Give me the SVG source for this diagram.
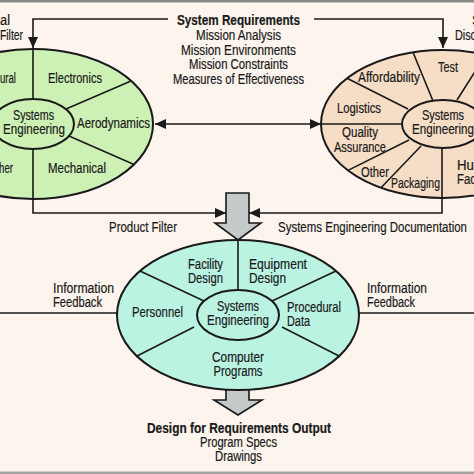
<svg xmlns="http://www.w3.org/2000/svg" width="474" height="474" viewBox="0 0 474 474">
<defs>
<style>
.t{font-family:"Liberation Sans",Arial,sans-serif;font-size:14px;fill:#1a1a1a;stroke:#1a1a1a;stroke-width:0.2}
.b{font-weight:bold}
.c{text-anchor:middle}
.e{text-anchor:end}
.ln{stroke:#1a1a1a;stroke-width:1.6;fill:none}
.el{stroke:#1a1a1a;stroke-width:2}
.ga{fill:#c4c9ca;stroke:#1a1a1a;stroke-width:1.6;stroke-linejoin:miter}
</style>
<marker id="ah" viewBox="0 0 11 10" refX="11" refY="5" markerWidth="11" markerHeight="10" markerUnits="userSpaceOnUse" orient="auto-start-reverse">
<path d="M0,0 L11,5 L0,10 z" fill="#1a1a1a"/>
</marker>
</defs>
<rect x="0" y="0" width="474" height="474" fill="#fdf4ed"/>
<rect x="0" y="0" width="474" height="2.5" fill="#8a8a8a"/>
<rect x="0" y="471.5" width="474" height="2.5" fill="#a3a3a3"/>

<g id="left-ellipse">
<ellipse cx="33" cy="124" rx="120" ry="75" fill="#cdf1b5"/>
<path class="ln" d="M33,49 V100 M66,109 L131,81 M69,136 L134,164.5"/>
<ellipse class="el" cx="33" cy="124" rx="41" ry="25" fill="#cdf1b5"/>
<ellipse class="el" cx="33" cy="124" rx="120" ry="75" fill="none"/>
<text class="t e" x="16" y="83" textLength="16" lengthAdjust="spacingAndGlyphs">ural</text>
<text class="t c" x="75" y="83" textLength="54" lengthAdjust="spacingAndGlyphs">Electronics</text>
<text class="t c" x="33.5" y="120" textLength="41" lengthAdjust="spacingAndGlyphs">Systems</text>
<text class="t c" x="34" y="133.5" textLength="62" lengthAdjust="spacingAndGlyphs">Engineering</text>
<text class="t c" x="113.5" y="128" textLength="73" lengthAdjust="spacingAndGlyphs">Aerodynamics</text>
<text class="t c" x="77" y="173" textLength="58" lengthAdjust="spacingAndGlyphs">Mechanical</text>
<text class="t e" x="13" y="173" textLength="14" lengthAdjust="spacingAndGlyphs">her</text>
</g>

<g id="right-ellipse">
<ellipse cx="443" cy="124" rx="122" ry="74" fill="#f6ddc6"/>
<path class="ln" d="M413,52.3 L433,101 M347,78.3 L408,109 M321,124 H404 M348,170.4 L409,140 M381,187.7 L421,146 M457,100 L490,48"/>
<ellipse class="el" cx="443" cy="124" rx="41" ry="24" fill="#f6ddc6"/>
<ellipse class="el" cx="443" cy="124" rx="122" ry="74" fill="none"/>
<text class="t c" x="448" y="72" textLength="20" lengthAdjust="spacingAndGlyphs">Test</text>
<text class="t c" x="389" y="82" textLength="62" lengthAdjust="spacingAndGlyphs">Affordability</text>
<text class="t c" x="359" y="113" textLength="44" lengthAdjust="spacingAndGlyphs">Logistics</text>
<text class="t c" x="360" y="137" textLength="36" lengthAdjust="spacingAndGlyphs">Quality</text>
<text class="t c" x="360" y="152" textLength="52" lengthAdjust="spacingAndGlyphs">Assurance</text>
<text class="t c" x="375" y="177" textLength="28" lengthAdjust="spacingAndGlyphs">Other</text>
<text class="t c" x="415.5" y="188" textLength="49" lengthAdjust="spacingAndGlyphs">Packaging</text>
<text class="t" x="457" y="170" textLength="17" lengthAdjust="spacingAndGlyphs">Hu</text>
<text class="t" x="457" y="184" textLength="19" lengthAdjust="spacingAndGlyphs">Fac</text>
<text class="t c" x="443" y="120" textLength="42" lengthAdjust="spacingAndGlyphs">Systems</text>
<text class="t c" x="443" y="133.5" textLength="62" lengthAdjust="spacingAndGlyphs">Engineering</text>
</g>

<g id="bottom-ellipse">
<polygon class="ga" points="226,385 249,385 249,400 262,400 238,415 214,400 226,400"/>
<ellipse cx="238" cy="315" rx="121" ry="75" fill="#bbf3e3"/>
<path class="ln" d="M238,240 V291 M140,271 L204,301 M137,356 L194,327 M336,271 L272,301 M339,356 L282,327"/>
<ellipse class="el" cx="238" cy="315" rx="41" ry="25" fill="#bbf3e3"/>
<ellipse class="el" cx="238" cy="315" rx="121" ry="75" fill="none"/>
<text class="t" x="188" y="269" textLength="35" lengthAdjust="spacingAndGlyphs">Facility</text>
<text class="t" x="188" y="283" textLength="35" lengthAdjust="spacingAndGlyphs">Design</text>
<text class="t" x="249" y="269" textLength="58" lengthAdjust="spacingAndGlyphs">Equipment</text>
<text class="t" x="249" y="283" textLength="37" lengthAdjust="spacingAndGlyphs">Design</text>
<text class="t c" x="157.5" y="317" textLength="51" lengthAdjust="spacingAndGlyphs">Personnel</text>
<text class="t" x="287" y="312" textLength="54" lengthAdjust="spacingAndGlyphs">Procedural</text>
<text class="t" x="287" y="325.5" textLength="23" lengthAdjust="spacingAndGlyphs">Data</text>
<text class="t c" x="238" y="311" textLength="42" lengthAdjust="spacingAndGlyphs">Systems</text>
<text class="t c" x="238" y="324.5" textLength="62" lengthAdjust="spacingAndGlyphs">Engineering</text>
<text class="t c" x="238" y="362" textLength="52" lengthAdjust="spacingAndGlyphs">Computer</text>
<text class="t c" x="238" y="375.5" textLength="49" lengthAdjust="spacingAndGlyphs">Programs</text>
</g>

<g id="product-arrow">
<polygon class="ga" points="226,193 249,193 249,223 261,223 238,240 215,223 226,223"/>
</g>

<g id="connectors">
<path class="ln" d="M168,19 H33 V48" marker-end="url(#ah)"/>
<path class="ln" d="M314,19 H443 V48" marker-end="url(#ah)"/>
<path class="ln" d="M155,124 H321" marker-start="url(#ah)" marker-end="url(#ah)"/>
<path class="ln" d="M33,149 V213 H226" marker-end="url(#ah)"/>
<path class="ln" d="M442,148 V213 H249" marker-end="url(#ah)"/>
<path class="ln" d="M0,313 H117 M359,313 H474"/>
</g>

<g id="labels">
<text class="t e" x="10" y="25" textLength="10" lengthAdjust="spacingAndGlyphs">al</text>
<text class="t e" x="23" y="40" textLength="23" lengthAdjust="spacingAndGlyphs">Filter</text>
<text class="t" x="472" y="25">S</text>
<text class="t" x="455" y="40" textLength="21" lengthAdjust="spacingAndGlyphs">Disc</text>
<text class="t b c" x="238.5" y="25" textLength="123" lengthAdjust="spacingAndGlyphs">System Requirements</text>
<text class="t c" x="238.5" y="40" textLength="85" lengthAdjust="spacingAndGlyphs">Mission Analysis</text>
<text class="t c" x="238.5" y="54.5" textLength="115" lengthAdjust="spacingAndGlyphs">Mission Environments</text>
<text class="t c" x="238.5" y="69" textLength="99" lengthAdjust="spacingAndGlyphs">Mission Constraints</text>
<text class="t c" x="238.5" y="83.5" textLength="131" lengthAdjust="spacingAndGlyphs">Measures of Effectiveness</text>
<text class="t c" x="143" y="232" textLength="68" lengthAdjust="spacingAndGlyphs">Product Filter</text>
<text class="t c" x="372.5" y="232" textLength="189" lengthAdjust="spacingAndGlyphs">Systems Engineering Documentation</text>
<text class="t" x="53" y="293" textLength="61" lengthAdjust="spacingAndGlyphs">Information</text>
<text class="t" x="53" y="307" textLength="49" lengthAdjust="spacingAndGlyphs">Feedback</text>
<text class="t" x="367" y="293" textLength="60" lengthAdjust="spacingAndGlyphs">Information</text>
<text class="t" x="367" y="307" textLength="48" lengthAdjust="spacingAndGlyphs">Feedback</text>
<text class="t b c" x="239" y="433" textLength="184" lengthAdjust="spacingAndGlyphs">Design for Requirements Output</text>
<text class="t c" x="238.5" y="447" textLength="77" lengthAdjust="spacingAndGlyphs">Program Specs</text>
<text class="t c" x="238.5" y="461" textLength="47" lengthAdjust="spacingAndGlyphs">Drawings</text>
</g>
</svg>
